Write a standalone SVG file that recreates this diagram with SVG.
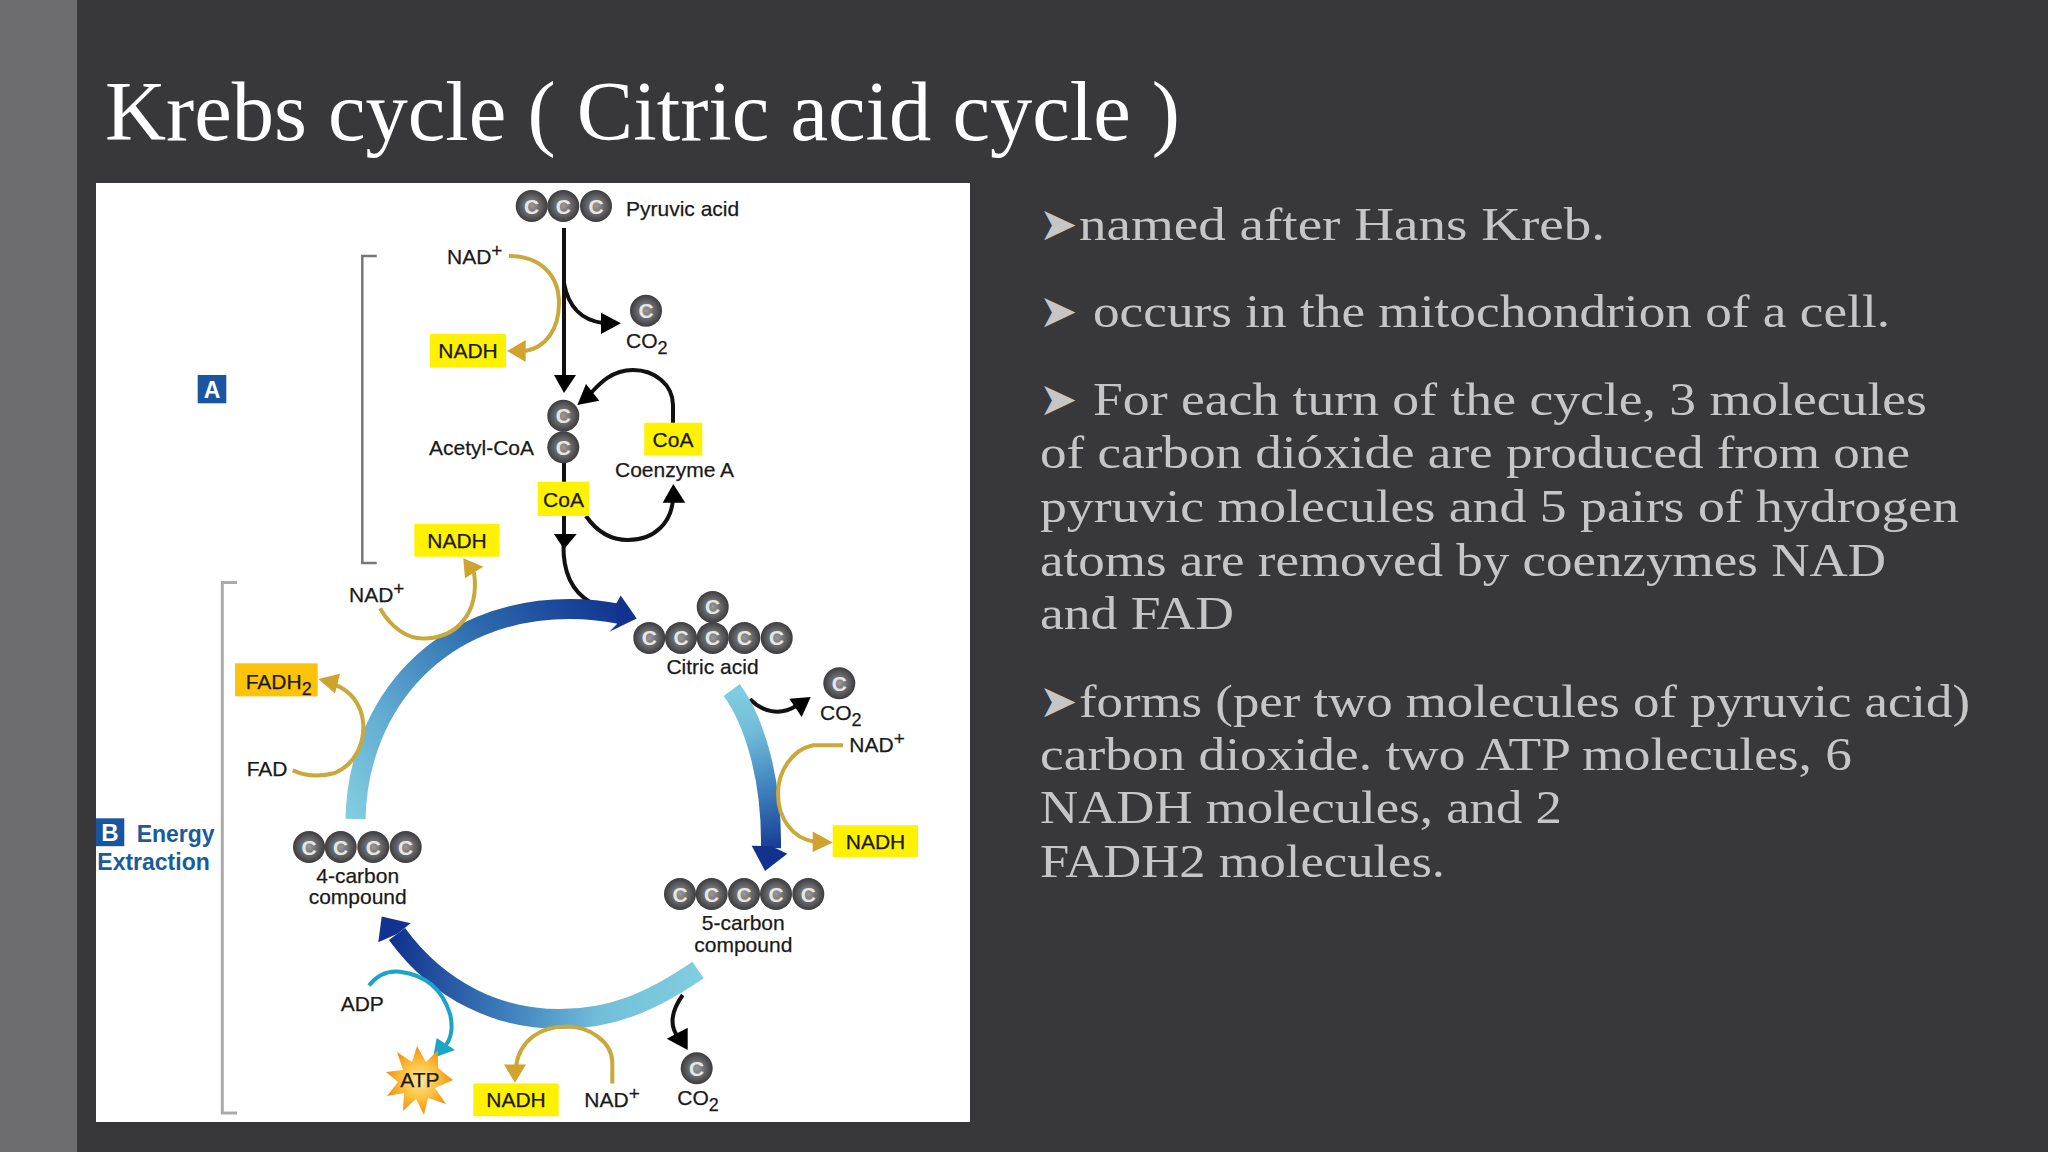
<svg xmlns="http://www.w3.org/2000/svg" xmlns:xlink="http://www.w3.org/1999/xlink" width="2048" height="1152" viewBox="0 0 2048 1152">
<style>
.t{font-family:"Liberation Sans",Arial,sans-serif;font-size:21px;fill:#1a1a1a;stroke:#1a1a1a;stroke-width:.25px}
.m{text-anchor:middle}
.c{font-family:"Liberation Sans",Arial,sans-serif;font-size:21px;font-weight:700;fill:#e6e6e6;text-anchor:middle}
.s{font-size:18px}
.p{font-size:19px}
.b{font-family:"Liberation Sans",Arial,sans-serif;font-size:23px;font-weight:700;fill:#1b5a9c}
.body{font-family:"Liberation Serif",serif;font-size:46px;fill:#c6c6c6}
.ar{font-family:"DejaVu Sans",sans-serif;font-size:46px;fill:#c6c6c6}
.title{font-family:"Liberation Serif",serif;font-size:84px;fill:#ffffff}
.y{fill:#fff200}
.gold{fill:none;stroke:#c9a83c;stroke-width:4}
.k{fill:none;stroke:#111;stroke-width:4}
.br{fill:none;stroke:#777;stroke-width:2.5}
.hg{fill:#cfa32e}
.hk{fill:#000}
</style>
<defs>
<radialGradient id="cg"><stop offset="0" stop-color="#9a9a9c"/><stop offset="0.7" stop-color="#58585a"/><stop offset="1" stop-color="#3c3c3e"/></radialGradient>
<circle id="ball" r="16" fill="url(#cg)"/>
<linearGradient id="a1" gradientUnits="userSpaceOnUse" x1="355" y1="819" x2="625" y2="612"><stop offset="0" stop-color="#80cde0"/><stop offset="0.25" stop-color="#62acd3"/><stop offset="0.6" stop-color="#2f6fb0"/><stop offset="1" stop-color="#11338f"/></linearGradient>
<linearGradient id="a2" gradientUnits="userSpaceOnUse" x1="735" y1="693" x2="770" y2="858"><stop offset="0" stop-color="#80cde0"/><stop offset="0.25" stop-color="#70bcd8"/><stop offset="0.6" stop-color="#3f80bd"/><stop offset="1" stop-color="#11338f"/></linearGradient>
<linearGradient id="a3" gradientUnits="userSpaceOnUse" x1="698" y1="970" x2="395" y2="936"><stop offset="0" stop-color="#80cde0"/><stop offset="0.3" stop-color="#72bfda"/><stop offset="0.6" stop-color="#3f80bd"/><stop offset="1" stop-color="#11338f"/></linearGradient>
<radialGradient id="star"><stop offset="0" stop-color="#fde89a"/><stop offset="0.55" stop-color="#fbbf3c"/><stop offset="1" stop-color="#f0900e"/></radialGradient>
</defs>

<rect width="2048" height="1152" fill="#38383a"/>
<rect width="77" height="1152" fill="#6c6c71"/>
<text id="title" class="title" x="105" y="140" textLength="1075" lengthAdjust="spacingAndGlyphs">Krebs cycle ( Citric acid cycle )</text>
<rect id="panel" x="96" y="183" width="874" height="939" fill="#ffffff"/>

<g id="connectors">
<path class="k" d="M564 228V378"/><path class="hk" d="M554 375H576L564 393Z"/>
<path class="k" d="M564 283C568 305 580 320 603 323"/><path class="hk" d="M601 312.700L621 323.300L601 334Z"/>
<path class="k" d="M564 462V540"/><path class="hk" d="M554 534H576.700L564 549.300Z"/>
<path class="k" d="M563.500 545C563 570 570 590 590 602"/>
<path class="k" d="M673 423V405C673 385 655 370 633 370C612 370 600 383 590 394"/><path class="hk" d="M577.300 405L586 384L599.300 400.700Z"/>
<path class="k" d="M586 516C597 532 612 540 628 540C655 540 672 522 673 498"/><path class="hk" d="M673.300 484L662.700 502.700H685.300Z"/>
<path class="k" d="M750 699C762 712 780 716 796 706"/><path class="hk" d="M789.300 698.800L810.700 697L801.700 717Z"/>
<path class="k" d="M682.700 995C672 1010 669 1025 678 1037"/><path class="hk" d="M687.700 1027.700L666.700 1038.700L687.700 1050Z"/>

<path fill="none" stroke="url(#a1)" stroke-width="20" d="M355.500 819C358 703 440 609 570 609C585 609 605 611 620 614"/>
<path fill="#11338f" d="M636.700 618.600L620.700 595.500L616 604L617 624L609.300 631.700Z"/>
<path fill="none" stroke="url(#a2)" stroke-width="20" d="M731.700 690C755 722 772 780 771 848"/>
<path fill="#11338f" d="M751.700 845.800L765 871L787.300 853.800L771 846Z"/>
<path fill="none" stroke="url(#a3)" stroke-width="20" d="M698 970C650 1003 610 1019 560 1019C500 1019 440 993 397 934"/>
<path fill="#11338f" d="M381.700 916.400L410.700 923.300L397 934L378.300 942.300Z"/>

<path class="gold" d="M509 256C540 256 559 275 559 303C559 330 545 348 525 351"/><path class="hg" d="M507 351L525.700 340V362Z"/>
<path class="gold" d="M380 608.200C392 629 408 638.500 423 638.500C455 638.500 480 615 474 572"/><path class="hg" d="M463.300 558.300L483.300 566.700L465 578.300Z"/>
<path class="gold" d="M292.700 770.400C305 776 320 777 335 773C355 764 364 745 363.300 724.600C362 704 350 690 333 684"/><path class="hg" d="M318.300 679L340 673.700L335 693.600Z"/>
<path class="gold" d="M843 745.300H813C792 750 778 771 778 793.500C778 818 792 838 814 841.700"/><path class="hg" d="M812.700 831.400L832.700 842.400L812.700 852Z"/>
<path class="gold" d="M612.300 1083.400V1062C612 1042 590 1026.600 566.700 1026.600C540 1026.600 520 1040 516 1066"/><path class="hg" d="M504 1064.500H526L515 1082.800Z"/>
<path fill="none" stroke="#1ca4c8" stroke-width="4" d="M369 985.600C378 974 390 970.800 400 971.800C425 975 442 988 450 1014C454 1030 450 1042 443 1048"/>
<path fill="#1ca4c8" d="M436.700 1038L455 1050L433 1058Z"/>
</g>

<g id="node-pyruvic">
<use xlink:href="#ball" href="#ball" x="531.700" y="206"/><use xlink:href="#ball" href="#ball" x="563.300" y="206"/><use xlink:href="#ball" href="#ball" x="596" y="206"/>
<text class="c" x="531.700" y="213.500">C</text><text class="c" x="563.300" y="213.500">C</text><text class="c" x="596" y="213.500">C</text>
<text class="t" x="626" y="215.700">Pyruvic acid</text>
</g>
<g id="node-co2-1"><use xlink:href="#ball" href="#ball" x="646" y="310.700"/><text class="c" x="646" y="318.200">C</text>
<text class="t" x="626" y="347.700">CO<tspan class="s" dy="6">2</tspan></text></g>
<g id="node-nad-1"><text class="t" x="447" y="264">NAD<tspan class="p" dy="-7">+</tspan></text></g>
<g id="node-nadh-1"><rect class="y" x="430" y="334" width="76" height="33.700"/><text class="t m" x="468" y="358">NADH</text></g>
<g id="node-a"><rect x="197.700" y="375" width="28.600" height="28.300" fill="#1a56a0"/><text class="c" x="212" y="397.500" style="fill:#ffffff;font-size:23px">A</text></g>
<path id="bracket-a" class="br" d="M376.700 256H362.300V563H376.700"/>
<g id="node-acetyl">
<use xlink:href="#ball" href="#ball" x="563.300" y="415.700"/><use xlink:href="#ball" href="#ball" x="563.300" y="447.300"/>
<text class="c" x="563.300" y="423.200">C</text><text class="c" x="563.300" y="454.800">C</text>
<text class="t" x="429" y="454.700">Acetyl-CoA</text>
</g>
<g id="node-coa-1"><rect class="y" x="537.700" y="481.700" width="51.600" height="34.300"/><text class="t m" x="563.500" y="507">CoA</text></g>
<g id="node-coa-2"><rect class="y" x="644.300" y="422.700" width="58" height="33"/><text class="t m" x="673" y="447">CoA</text></g>
<g id="node-coenzyme"><text class="t" x="615" y="476.700">Coenzyme A</text></g>
<g id="node-nadh-2"><rect class="y" x="414.300" y="524" width="85.400" height="32.700"/><text class="t m" x="457" y="547.700">NADH</text></g>
<g id="node-nad-2"><text class="t" x="349" y="601.700">NAD<tspan class="p" dy="-7">+</tspan></text></g>
<path id="bracket-b" class="br" style="stroke:#aaaaaa;stroke-width:3" d="M237 582.400H222.300V1113H237"/>
<g id="node-b">
<rect x="96" y="818.300" width="28.300" height="27.900" fill="#1a56a0"/><text class="c" x="110" y="840.500" style="fill:#ffffff;font-size:24px">B</text>
<text class="b" x="136.700" y="842.400">Energy</text><text class="b" x="97.300" y="870.300">Extraction</text>
</g>
<g id="node-citric">
<use xlink:href="#ball" href="#ball" x="712.700" y="606.900"/><use xlink:href="#ball" href="#ball" x="649.300" y="637.900"/><use xlink:href="#ball" href="#ball" x="681" y="637.900"/><use xlink:href="#ball" href="#ball" x="712.700" y="637.900"/><use xlink:href="#ball" href="#ball" x="744.300" y="637.900"/><use xlink:href="#ball" href="#ball" x="776.700" y="637.900"/>
<text class="c" x="712.700" y="614.400">C</text><text class="c" x="649.300" y="645.400">C</text><text class="c" x="681" y="645.400">C</text><text class="c" x="712.700" y="645.400">C</text><text class="c" x="744.300" y="645.400">C</text><text class="c" x="776.700" y="645.400">C</text>
<text class="t m" x="712.500" y="673.700">Citric acid</text>
</g>
<g id="node-co2-2"><use xlink:href="#ball" href="#ball" x="839.300" y="683.300"/><text class="c" x="839.300" y="690.800">C</text>
<text class="t" x="820" y="719.500">CO<tspan class="s" dy="6">2</tspan></text></g>
<g id="node-nad-3"><text class="t" x="849.300" y="752.200">NAD<tspan class="p" dy="-7">+</tspan></text></g>
<g id="node-nadh-3"><rect class="y" x="832.700" y="825.200" width="85.300" height="32"/><text class="t m" x="875.500" y="848.600">NADH</text></g>
<g id="node-5c">
<use xlink:href="#ball" href="#ball" x="680" y="894"/><use xlink:href="#ball" href="#ball" x="711.700" y="894"/><use xlink:href="#ball" href="#ball" x="744" y="894"/><use xlink:href="#ball" href="#ball" x="776" y="894"/><use xlink:href="#ball" href="#ball" x="808.300" y="894"/>
<text class="c" x="680" y="901.500">C</text><text class="c" x="711.700" y="901.500">C</text><text class="c" x="744" y="901.500">C</text><text class="c" x="776" y="901.500">C</text><text class="c" x="808.300" y="901.500">C</text>
<text class="t m" x="743.300" y="930.200">5-carbon</text><text class="t m" x="743.300" y="951.900">compound</text>
</g>
<g id="node-4c">
<use xlink:href="#ball" href="#ball" x="309" y="847"/><use xlink:href="#ball" href="#ball" x="340.700" y="847"/><use xlink:href="#ball" href="#ball" x="373.300" y="847"/><use xlink:href="#ball" href="#ball" x="405.700" y="847"/>
<text class="c" x="309" y="854.500">C</text><text class="c" x="340.700" y="854.500">C</text><text class="c" x="373.300" y="854.500">C</text><text class="c" x="405.700" y="854.500">C</text>
<text class="t m" x="357.700" y="883">4-carbon</text><text class="t m" x="357.700" y="904.400">compound</text>
</g>
<g id="node-fadh2"><rect x="235" y="663.300" width="82.700" height="33.100" fill="#fdc30a"/><text class="t" x="245.700" y="688.500">FADH<tspan class="s" dy="6">2</tspan></text></g>
<g id="node-fad"><text class="t" x="246.700" y="776.300">FAD</text></g>
<g id="node-adp"><text class="t" x="340.700" y="1011">ADP</text></g>
<g id="node-atp">
<polygon fill="url(#star)" points="453,1080 435,1088 446,1104 428,1098 424,1115 416,1099 403,1111 404,1093 387,1096 398,1082 386,1072 403,1070 397,1052 412,1062 417,1046 426,1062 438,1050 438,1068"/>
<text class="t m" x="420" y="1087">ATP</text>
</g>
<g id="node-nadh-4"><rect class="y" x="473.300" y="1083.400" width="85.400" height="32.800"/><text class="t m" x="516" y="1106.900">NADH</text></g>
<g id="node-nad-4"><text class="t" x="584.300" y="1106.900">NAD<tspan class="p" dy="-7">+</tspan></text></g>
<g id="node-co2-3"><use xlink:href="#ball" href="#ball" x="696.700" y="1068.300"/><text class="c" x="696.700" y="1075.800">C</text>
<text class="t" x="677.300" y="1105">CO<tspan class="s" dy="6">2</tspan></text></g>

<g id="body">
<text class="ar" x="1039" y="240">➤</text><text class="body" x="1079" y="240" textLength="526" lengthAdjust="spacingAndGlyphs">named after Hans Kreb.</text>
<text class="ar" x="1039" y="327">➤</text><text class="body" x="1093" y="327" textLength="797" lengthAdjust="spacingAndGlyphs">occurs in the mitochondrion of a cell.</text>
<text class="ar" x="1039" y="415">➤</text><text class="body" x="1093" y="415" textLength="834" lengthAdjust="spacingAndGlyphs">For each turn of the cycle, 3 molecules</text>
<text class="body" x="1040" y="468" textLength="870" lengthAdjust="spacingAndGlyphs">of carbon dióxide are produced from one</text>
<text class="body" x="1040" y="522" textLength="919" lengthAdjust="spacingAndGlyphs">pyruvic molecules and 5 pairs of hydrogen</text>
<text class="body" x="1040" y="576" textLength="846" lengthAdjust="spacingAndGlyphs">atoms are removed by coenzymes NAD</text>
<text class="body" x="1040" y="629" textLength="194" lengthAdjust="spacingAndGlyphs">and FAD</text>
<text class="ar" x="1039" y="717">➤</text><text class="body" x="1079" y="717" textLength="891" lengthAdjust="spacingAndGlyphs">forms (per two molecules of pyruvic acid)</text>
<text class="body" x="1040" y="770" textLength="812" lengthAdjust="spacingAndGlyphs">carbon dioxide. two ATP molecules, 6</text>
<text class="body" x="1040" y="823" textLength="522" lengthAdjust="spacingAndGlyphs">NADH molecules, and 2</text>
<text class="body" x="1040" y="877" textLength="405" lengthAdjust="spacingAndGlyphs">FADH2 molecules.</text>
</g>
</svg>
